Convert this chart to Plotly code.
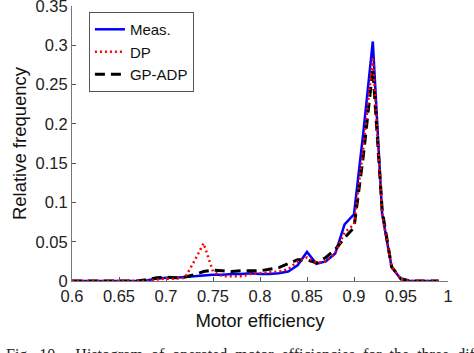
import plotly.graph_objects as go

x = [round(0.60 + 0.01 * i, 2) for i in range(40)]  # 0.60 .. 0.99

meas = [0, 0, 0, 0, 0, 0, 0, 0, 0.001, 0.003,
        0.004, 0.004, 0.005, 0.006, 0.007, 0.008, 0.008, 0.009, 0.009, 0.010,
        0.009, 0.009, 0.010, 0.012, 0.020, 0.037, 0.022, 0.025, 0.035, 0.072,
        0.085, 0.190, 0.305, 0.085, 0.018, 0.002, 0, 0, 0, 0]
dp = [0, 0, 0, 0, 0, 0, 0, 0, 0, 0.002,
      0.003, 0.003, 0.004, 0.025, 0.048, 0.012, 0.006, 0.006, 0.006, 0.009,
      0.010, 0.011, 0.012, 0.015, 0.025, 0.030, 0.023, 0.025, 0.035, 0.062,
      0.072, 0.170, 0.285, 0.085, 0.018, 0.002, 0, 0, 0, 0]
gpadp = [0, 0, 0, 0, 0, 0, 0, 0, 0.002, 0.004,
         0.005, 0.004, 0.005, 0.008, 0.012, 0.014, 0.013, 0.012, 0.013, 0.013,
         0.013, 0.015, 0.017, 0.022, 0.027, 0.027, 0.023, 0.030, 0.040, 0.055,
         0.068, 0.160, 0.270, 0.090, 0.018, 0.003, 0, 0, 0, 0]

xticks = [0.6, 0.65, 0.7, 0.75, 0.8, 0.85, 0.9, 0.95, 1.0]
xticklabels = ["0.6", "0.65", "0.7", "0.75", "0.8", "0.85", "0.9", "0.95", "1"]
yticks = [0, 0.05, 0.1, 0.15, 0.2, 0.25, 0.3, 0.35]
yticklabels = ["0", "0.05", "0.1", "0.15", "0.2", "0.25", "0.3", "0.35"]

fig = go.Figure()
fig.add_trace(go.Scatter(x=x, y=meas, mode="lines", name="Meas.",
                         line=dict(color="#0000ff", width=2.5), legendrank=1))
fig.add_trace(go.Scatter(x=x, y=gpadp, mode="lines", name="GP-ADP",
                         line=dict(color="#000000", width=3, dash="10px,6px"), legendrank=3))
fig.add_trace(go.Scatter(x=x, y=dp, mode="lines", name="DP",
                         line=dict(color="#ff0000", width=2.5, dash="2px,3px"), legendrank=2))

font = "Liberation Sans, Arial, sans-serif"
fig.update_layout(
    width=474, height=353,
    margin=dict(l=72, r=26, t=6, b=72),
    paper_bgcolor="white", plot_bgcolor="white",
    font=dict(family=font, size=16.5, color="#222222"),
    showlegend=True,
    legend=dict(x=0.045, y=0.978, xanchor="left", yanchor="top",
                bgcolor="white", bordercolor="#555555", borderwidth=1,
                font=dict(size=15, color="#111111"), tracegroupgap=0,
                itemwidth=30),
    xaxis=dict(range=[0.6, 1.0], tickvals=xticks, ticktext=xticklabels,
               ticks="inside", ticklen=4, tickcolor="#555555",
               showline=True, linecolor="#777777", linewidth=1,
               showgrid=False, zeroline=False, automargin=False,
               ticklabeloverflow="allow",
               title=dict(text="Motor efficiency", font=dict(size=18.5, color="#111111"), standoff=10),
               tickfont=dict(size=16.5, color="#222222")),
    yaxis=dict(range=[0, 0.3502], tickvals=yticks, ticktext=yticklabels,
               ticks="inside", ticklen=4, tickcolor="#555555",
               showline=True, linecolor="#777777", linewidth=1,
               showgrid=False, zeroline=False, automargin=False,
               ticklabeloverflow="allow",
               title=dict(text="Relative frequency", font=dict(size=18.5, color="#111111"), standoff=4),
               tickfont=dict(size=16.5, color="#222222")),
)
fig.add_annotation(text="Fig.  10.    Histogram  of  operated  motor  efficiencies  for  the  three  diffe",
                   xref="paper", yref="paper", x=-0.181, y=-0.23,
                   xanchor="left", yanchor="top", showarrow=False,
                   font=dict(family="Liberation Serif, Times New Roman, serif", size=16, color="#222222"))
fig.write_html("out.html")
